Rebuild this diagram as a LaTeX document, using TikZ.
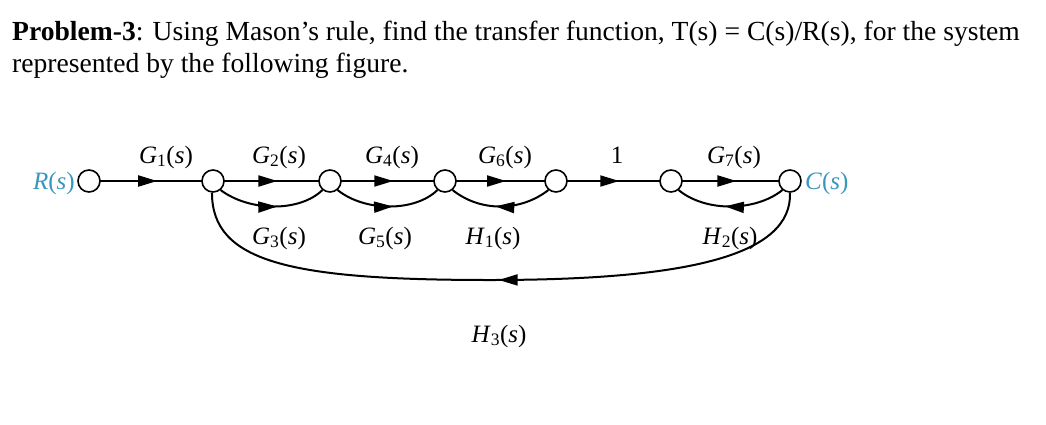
\documentclass[tikz,border=0pt]{standalone}
\usepackage{fontspec}
\setmainfont{Liberation Serif}
\usetikzlibrary{decorations.markings,arrows.meta}
\definecolor{sigblue}{RGB}{58,150,190}
\newcommand{\gl}[2]{\textit{#1}\textsubscript{#2}(\textit{s})}
\begin{document}
\begin{tikzpicture}[x=1pt,y=-1pt,
  nd/.style={circle,draw,line width=1.6pt,minimum size=22pt,inner sep=0pt,fill=white},
  br/.style={line width=2pt,postaction={decorate},decoration={markings,mark=at position #1 with {\arrow{Triangle[length=19pt,width=11pt]}}}},
  br/.default=0.55,
  lab/.style={font=\fontsize{25}{28}\selectfont,inner sep=0pt},
  sig/.style={font=\fontsize{25}{28}\selectfont,text=sigblue,inner sep=0pt}]
\useasboundingbox (0,0) rectangle (1046,424);
\node[anchor=base west,inner sep=0pt,font=\fontsize{27.6}{30}\selectfont] (t1) at (12,40) {\textbf{Problem-3}: Using Mason’s rule, find the transfer function, T(s) = C(s)/R(s), for the system};
\node[anchor=base west,inner sep=0pt,font=\fontsize{27.6}{30}\selectfont] (t2) at (12,72) {represented by the following figure.};
\draw[br] (89,181) -- (213,181);
\draw[br] (213,181) -- (330,181);
\draw[br] (330,181) -- (445,181);
\draw[br] (445,181) -- (556,181);
\draw[br] (556,181) -- (671,181);
\draw[br] (671,181) -- (790,181);
\node[nd] (R) at (89,181) {};
\node[nd] (n1) at (213,181) {};
\node[nd] (n2) at (330,181) {};
\node[nd] (n3) at (445,181) {};
\node[nd] (n4) at (556,181) {};
\node[nd] (n5) at (671,181) {};
\node[nd] (C) at (790,181) {};
\draw[br] (n1.-50) .. controls (250,212) and (300,212) .. (n2.-130);
\draw[br] (n2.-50) .. controls (365,212) and (415,212) .. (n3.-130);
\draw[br] (n4.-130) .. controls (520,212) and (480,212) .. (n3.-50);
\draw[br] (C.-130) .. controls (755,212) and (705,212) .. (n5.-50);
\draw[br=0.5] (C.-90) .. controls (792,255) and (690,280) .. (490,280) .. controls (290,280) and (212,262) .. (n1.-95);
\node[sig,anchor=east] (lR) at (75,183) {\textit{R}(\textit{s})};
\node[sig,anchor=west] (lC) at (805,183) {\textit{C}(\textit{s})};
\node[lab] (g1) at (166,157) {\gl{G}{1}};
\node[lab] (g2) at (279,157) {\gl{G}{2}};
\node[lab] (g4) at (392,157) {\gl{G}{4}};
\node[lab] (g6) at (505,157) {\gl{G}{6}};
\node[lab] (one) at (617,155) {1};
\node[lab] (g7) at (734,157) {\gl{G}{7}};
\node[lab] (g3) at (279,238) {\gl{G}{3}};
\node[lab] (g5) at (385,238) {\gl{G}{5}};
\node[lab] (h1) at (493,238) {\gl{H}{1}};
\node[lab] (h2) at (730,238) {\gl{H}{2}};
\node[lab] (h3) at (499,336) {\gl{H}{3}};
\end{tikzpicture}
\end{document}
